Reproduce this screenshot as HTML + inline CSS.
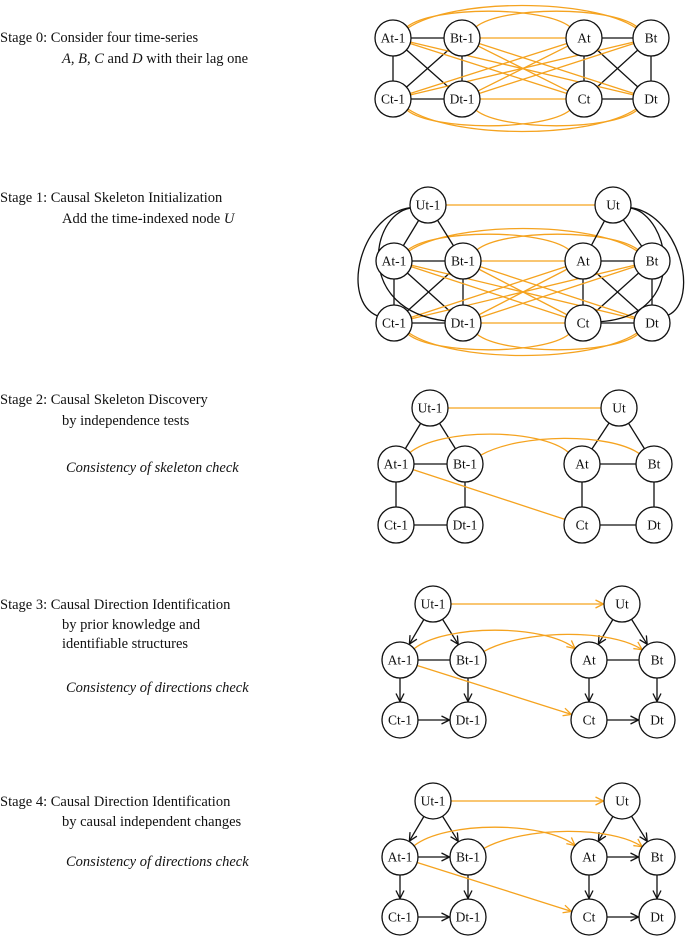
<!DOCTYPE html>
<html><head><meta charset="utf-8"><style>
body{margin:0;background:#fff}
svg{display:block}
text{font-family:"Liberation Serif",serif;font-size:14.5px;fill:#111}
.n{font-size:13.5px;text-anchor:middle;dominant-baseline:central}
</style></head><body>
<svg id="s" width="685" height="937" viewBox="0 0 685 937" xmlns="http://www.w3.org/2000/svg">
<defs>
<marker id="ab" markerWidth="12" markerHeight="12" refX="9" refY="5" orient="auto" markerUnits="userSpaceOnUse"><path d="M1,1 L9,5 L1,9" fill="none" stroke="#111" stroke-width="1.3"/></marker>
<marker id="ao" markerWidth="12" markerHeight="12" refX="9" refY="5" orient="auto" markerUnits="userSpaceOnUse"><path d="M1,1 L9,5 L1,9" fill="none" stroke="#f5a31f" stroke-width="1.3"/></marker>
</defs>
<g id="edges"></g>
<g id="nodes"></g>
<text x="0" y="42">Stage 0: Consider four time-series</text>
<text x="62" y="63"><tspan font-style="italic">A</tspan>,  <tspan font-style="italic">B</tspan>,  <tspan font-style="italic">C</tspan> and <tspan font-style="italic">D</tspan> with their lag one</text>
<text x="0" y="202">Stage 1: Causal Skeleton Initialization</text>
<text x="62" y="223">Add the time-indexed node <tspan font-style="italic">U</tspan></text>
<text x="0" y="404">Stage 2: Causal Skeleton Discovery</text>
<text x="62" y="425">by independence tests</text>
<text x="66" y="472" font-style="italic">Consistency of skeleton check</text>
<text x="0" y="609">Stage 3: Causal Direction Identification</text>
<text x="62" y="629">by prior knowledge and</text>
<text x="62" y="648">identifiable structures</text>
<text x="66" y="692" font-style="italic">Consistency of directions check</text>
<text x="0" y="806">Stage 4: Causal Direction Identification</text>
<text x="62" y="826">by causal independent changes</text>
<text x="66" y="866" font-style="italic">Consistency of directions check</text>
</svg>
<script>
var O="#f5a31f",K="#111",R=18;
var E=document.getElementById("edges"),N=document.getElementById("nodes");
var NS="http://www.w3.org/2000/svg";
function mk(t,a,p){var e=document.createElementNS(NS,t);for(var k in a)e.setAttribute(k,a[k]);p.appendChild(e);return e;}
function pt(p,q,r){var dx=q[0]-p[0],dy=q[1]-p[1],d=Math.hypot(dx,dy);return [p[0]+dx*r/d,p[1]+dy*r/d];}
function L(a,b,c,ar){var s=pt(a,b,R),e=pt(b,a,R+(ar?0.5:0));var at={d:"M"+s+" L"+e,fill:"none",stroke:c,"stroke-width":1.3};if(ar)at["marker-end"]="url(#"+(c==O?"ao":"ab")+")";mk("path",at,E);}
function C(a,b,c1,c2,c,ar){var s=pt(a,c1,R),e=pt(b,c2,R);var at={d:"M"+s+" C"+c1+" "+c2+" "+e,fill:"none",stroke:c,"stroke-width":1.3};if(ar)at["marker-end"]="url(#"+(c==O?"ao":"ab")+")";mk("path",at,E);}
var labels={U1:"Ut-1",U:"Ut",A1:"At-1",B1:"Bt-1",C1:"Ct-1",D1:"Dt-1",A:"At",B:"Bt",C:"Ct",D:"Dt"};
function nodes(P){for(var k in P){mk("circle",{cx:P[k][0],cy:P[k][1],r:R,fill:"#fff",stroke:K,"stroke-width":1.3},N);var t=mk("text",{x:P[k][0],y:P[k][1],"class":"n"},N);t.textContent=labels[k];}}
function full(P){
 var L1=["A1","B1","C1","D1"],L0=["A","B","C","D"];
 [L1,L0].forEach(function(g){for(var i=0;i<4;i++)for(var j=i+1;j<4;j++)L(P[g[i]],P[g[j]],K);});
 var top=P.A1[1]-R,bot=P.C1[1]+R;
 C(P.A1,P.A,[P.A1[0]+40,top-14],[P.A[0]-40,top-14],O);
 C(P.A1,P.B,[P.A1[0]+60,top-22],[P.B[0]-60,top-22],O);
 C(P.B1,P.B,[P.B1[0]+40,top-14],[P.B[0]-40,top-14],O);
 C(P.C1,P.C,[P.C1[0]+40,bot+14],[P.C[0]-40,bot+14],O);
 C(P.C1,P.D,[P.C1[0]+60,bot+22],[P.D[0]-60,bot+22],O);
 C(P.D1,P.D,[P.D1[0]+40,bot+14],[P.D[0]-40,bot+14],O);
 var st=[["A1","C"],["A1","D"],["B1","A"],["B1","C"],["B1","D"],["C1","A"],["C1","B"],["C1","D"],["D1","A"],["D1","B"],["D1","C"],["A1","D"]];
 st=[["A1","C"],["A1","D"],["B1","A"],["B1","C"],["B1","D"],["C1","A"],["C1","B"],["D1","A"],["D1","B"],["D1","C"]];
 st.forEach(function(p){L(P[p[0]],P[p[1]],O);});
}
function S(dy,u){var o={A1:[393,38+dy],B1:[462,38+dy],A:[584,38+dy],B:[651,38+dy],C1:[393,99+dy],D1:[462,99+dy],C:[584,99+dy],D:[651,99+dy]};return o;}
// Stage 0
var P0={A1:[393,38],B1:[462,38],A:[584,38],B:[651,38],C1:[393,99],D1:[462,99],C:[584,99],D:[651,99]};
full(P0);nodes(P0);
// Stage 1
var P1={U1:[428,205],U:[613,205],A1:[394,261],B1:[463,261],A:[583,261],B:[652,261],C1:[394,323],D1:[463,323],C:[583,323],D:[652,323]};
full(P1);
L(P1.U1,P1.U,O);L(P1.U1,P1.A1,K);L(P1.U1,P1.B1,K);L(P1.U,P1.A,K);L(P1.U,P1.B,K);
C(P1.U1,P1.C1,[360,215],[340,300],K);
C(P1.U1,P1.D1,[370,215],[355,310],K);
C(P1.U,P1.D,[680,215],[700,300],K);
C(P1.U,P1.C,[670,215],[690,315],K);
nodes(P1);
// Stage 2
var P2={U1:[430,408],U:[619,408],A1:[396,464],B1:[465,464],A:[582,464],B:[654,464],C1:[396,525],D1:[465,525],C:[582,525],D:[654,525]};
L(P2.U1,P2.U,O);L(P2.U1,P2.A1,K);L(P2.U1,P2.B1,K);L(P2.A1,P2.B1,K);L(P2.A1,P2.C1,K);L(P2.B1,P2.D1,K);L(P2.C1,P2.D1,K);
L(P2.U,P2.A,K);L(P2.U,P2.B,K);L(P2.A,P2.B,K);L(P2.A,P2.C,K);L(P2.B,P2.D,K);L(P2.C,P2.D,K);
C(P2.A1,P2.A,[440,428],[540,428],O);C(P2.B1,P2.B,[520,433],[610,433],O);L(P2.A1,P2.C,O);
nodes(P2);
// Stage 3 & 4
function S34(dy,dirAB){
 var P={U1:[433,604+dy],U:[622,604+dy],A1:[400,660+dy],B1:[468,660+dy],A:[589,660+dy],B:[657,660+dy],C1:[400,720+dy],D1:[468,720+dy],C:[589,720+dy],D:[657,720+dy]};
 L(P.U1,P.U,O,1);L(P.U1,P.A1,K,1);L(P.U1,P.B1,K,1);L(P.A1,P.B1,K,dirAB);L(P.A1,P.C1,K,1);L(P.B1,P.D1,K,1);L(P.C1,P.D1,K,1);
 L(P.U,P.A,K,1);L(P.U,P.B,K,1);L(P.A,P.B,K,dirAB);L(P.A,P.C,K,1);L(P.B,P.D,K,1);L(P.C,P.D,K,1);
 C(P.A1,P.A,[445,624+dy],[545,624+dy],O,1);C(P.B1,P.B,[525,629+dy],[612,629+dy],O,1);L(P.A1,P.C,O,1);
 nodes(P);
}
S34(0,0);S34(197,1);
</script>
</body></html>
